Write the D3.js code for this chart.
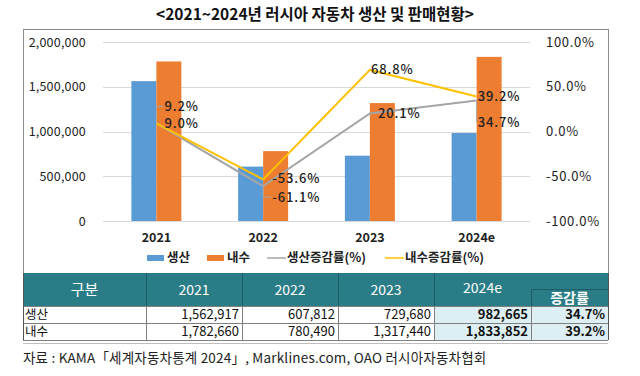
<!DOCTYPE html>
<html><head><meta charset="utf-8">
<script src="https://cdn.jsdelivr.net/npm/d3@7"></script>
<style>
body{margin:0;background:#fff;}
text{font-family:"Noto Sans CJK KR","Noto Sans",sans-serif;}
</style></head>
<body><svg id="c" width="640" height="376"></svg>
<script>
const years = ["2021","2022","2023","2024e"];
const production = [1562917, 607812, 729680, 982665];
const sales = [1782660, 780490, 1317440, 1833852];
const prodGrowth = [9.0, -61.1, 20.1, 34.7];
const salesGrowth = [9.2, -53.6, 68.8, 39.2];
const leftTicks = [0, 500000, 1000000, 1500000, 2000000];
const rightTicks = [-100, -50, 0, 50, 100];
const seriesNames = ["생산","내수","생산증감률(%)","내수증감률(%)"];
const tableHead = ["구분","2021","2022","2023","2024e"];
const rateHead = "증감률";
const rowNames = ["생산","내수"];
const rates = ["34.7%","39.2%"];
const title = "<2021~2024년 러시아 자동차 생산 및 판매현황>";
const source = "자료 : KAMA「세계자동차통계 2024」, Marklines.com, OAO 러시아자동차협회";

const C = {blue:"#5B9BD5", orange:"#ED7D31", grey:"#A5A5A5", yellow:"#FFC000", teal:"#2A7D86"};
const svg = d3.select("#c");
svg.append("rect").attr("width",640).attr("height",376).attr("fill","#fff");

svg.append("text").attr("x",315).attr("y",20).attr("text-anchor","middle")
  .attr("font-size",15.5).attr("font-weight",700).attr("fill","#111").text(title);

// chart box
svg.append("rect").attr("x",23.5).attr("y",29.5).attr("width",585).attr("height",244)
  .attr("fill","none").attr("stroke","#8c8c8c");

const x = d3.scaleBand().domain(years).range([103,530]).padding(0);
const sub = d3.scaleBand().domain([0,1]).range([x.bandwidth()/2-25, x.bandwidth()/2+25]).padding(0);
const y = d3.scaleLinear().domain([0,2000000]).range([221,42]);
const y2 = d3.scaleLinear().domain([-100,100]).range([221,42]);

// grid
svg.append("g").selectAll("line").data(leftTicks).join("line")
  .attr("x1",103).attr("x2",530).attr("y1",d=>Math.round(y(d))+0.5).attr("y2",d=>Math.round(y(d))+0.5)
  .attr("stroke","#d9d9d9");

// axes
const ax = svg.append("g").attr("transform","translate(103,0)")
  .call(d3.axisLeft(y).tickValues(leftTicks).tickSize(0).tickPadding(17).tickFormat(d3.format(",")));
ax.select(".domain").remove();
ax.selectAll("text").attr("font-size",12.5).attr("letter-spacing",0.2).attr("fill","#222").attr("font-family","'Noto Sans CJK KR',sans-serif");
const ax2 = svg.append("g").attr("transform","translate(530,0)")
  .call(d3.axisRight(y2).tickValues(rightTicks).tickSize(0).tickPadding(16).tickFormat(d=>d.toFixed(1)+"%"));
ax2.select(".domain").remove();
ax2.selectAll("text").attr("font-size",13).attr("letter-spacing",0.7).attr("fill","#222").attr("font-family","'Noto Sans CJK KR',sans-serif");
const axb = svg.append("g").attr("transform","translate(0,221)")
  .call(d3.axisBottom(x).tickSize(0).tickPadding(12));
axb.select(".domain").remove();
axb.selectAll("text").attr("font-size",12.5).attr("font-weight",700).attr("fill","#222").attr("font-family","'Noto Sans CJK KR',sans-serif");

// bars
const bars = [production, sales];
const barColors = [C.blue, C.orange];
bars.forEach((arr,i)=>{
  svg.append("g").selectAll("rect").data(arr).join("rect")
    .attr("x",(d,j)=>x(years[j])+sub(i)).attr("width",sub.bandwidth())
    .attr("y",d=>y(d)).attr("height",d=>y(0)-y(d)).attr("fill",barColors[i]);
});

// lines
const cx = d=>x(d)+x.bandwidth()/2;
const lineGen = d3.line().x((d,i)=>cx(years[i])).y(d=>y2(d));
svg.append("path").datum(prodGrowth).attr("d",lineGen).attr("fill","none").attr("stroke",C.grey).attr("stroke-width",2);
svg.append("path").datum(salesGrowth).attr("d",lineGen).attr("fill","none").attr("stroke",C.yellow).attr("stroke-width",2);

// labels: [series, index, dx, dy, leader]
const labelCfg = [
  [salesGrowth,0,8,-17,true],[prodGrowth,0,8,0,false],
  [salesGrowth,1,9,-1,false],[prodGrowth,1,9,11,true],
  [salesGrowth,2,1,0,false],[prodGrowth,2,8,0,false],
  [salesGrowth,3,1,0,false],[prodGrowth,3,1,22,true]
];
const lg = svg.append("g");
labelCfg.forEach(([arr,i,dx,dy,leader])=>{
  const px = cx(years[i]), py = y2(arr[i]);
  const tx = px+dx, ty = py+dy;
  if(leader){
    lg.append("path").attr("d",`M${px},${py}V${ty}H${tx-1}`).attr("fill","none").attr("stroke","#a6a6a6").attr("stroke-width",1);
  }
  lg.append("text").attr("x",tx).attr("y",ty).attr("dy","0.35em").attr("font-size",13).attr("letter-spacing",0.9)
    .attr("font-weight",500).attr("fill","#222").text(arr[i].toFixed(1)+"%");
});

// legend
const leg = svg.append("g").attr("transform","translate(0,258)");
const legItems = [
  {x:147,type:"rect",c:C.blue,t:seriesNames[0]},
  {x:207,type:"rect",c:C.orange,t:seriesNames[1]},
  {x:267,type:"line",c:C.grey,t:seriesNames[2]},
  {x:385,type:"line",c:C.yellow,t:seriesNames[3]}
];
legItems.forEach(it=>{
  if(it.type==="rect") leg.append("rect").attr("x",it.x).attr("y",-3).attr("width",17).attr("height",6).attr("fill",it.c);
  else leg.append("line").attr("x1",it.x).attr("x2",it.x+19).attr("y1",0).attr("y2",0).attr("stroke",it.c).attr("stroke-width",1.5);
  leg.append("text").attr("x",it.x+20).attr("y",0).attr("dy","0.35em").attr("font-size",12.5).attr("font-weight",700)
    .attr("fill","#222").text(it.t);
});

// table
const cols = [23,146,242,338,434,531,608];
const tTop=273, tHead=306, r1=323, r2=340;
const tfont = "'Liberation Sans',sans-serif";
const tg = svg.append("g");
tg.append("rect").attr("x",23).attr("y",tTop).attr("width",585).attr("height",tHead-tTop).attr("fill",C.teal);
[0,1].forEach(r=>{
  [4,5].forEach(ci=>{
    tg.append("rect").attr("x",cols[ci]).attr("y",r===0?tHead:r1).attr("width",cols[ci+1]-cols[ci]).attr("height",17).attr("fill","#DDEFF3");
  });
});
cols.slice(1,5).forEach(cx0=>{
  tg.append("line").attr("x1",cx0+0.5).attr("x2",cx0+0.5).attr("y1",tTop).attr("y2",tHead).attr("stroke","#1d5c63");
});
tg.append("path").attr("d",`M${cols[5]+0.5},${tHead}V${289.5}H${608}`).attr("fill","none").attr("stroke","#1d5c63");
tableHead.forEach((t,i)=>{
  const xx=(cols[i]+cols[i+1])/2, yy=i===4?288:290;
  tg.append("text").attr("x",xx).attr("y",yy).attr("dy","0.35em").attr("text-anchor","middle")
      .attr("font-size",i===0?15:14).attr("fill","#fff").attr("font-family",i===0?null:tfont).text(t);
});
tg.append("text").attr("x",(cols[5]+cols[6])/2).attr("y",298).attr("dy","0.35em").attr("text-anchor","middle")
  .attr("font-size",14).attr("fill","#fff").attr("font-weight",700).text(rateHead);
const rowData=[production,sales];
rowData.forEach((arr,r)=>{
  const yc = (r===0?tHead:r1)+8.5;
  tg.append("text").attr("x",25).attr("y",yc).attr("dy","0.36em").attr("font-size",12.5).attr("fill","#111").text(rowNames[r]);
  arr.forEach((v,i)=>{
    tg.append("text").attr("x",cols[i+2]-3).attr("y",yc).attr("dy","0.36em").attr("text-anchor","end")
      .attr("font-size",13).attr("font-weight",i===3?700:400).attr("fill","#111").attr("font-family",tfont)
      .text(d3.format(",")(v));
  });
  tg.append("text").attr("x",cols[6]-3).attr("y",yc).attr("dy","0.36em").attr("text-anchor","end")
    .attr("font-size",13).attr("font-weight",700).attr("fill","#111").attr("font-family",tfont).text(rates[r]);
});
[tHead,r1,r2].forEach(yy=>{
  tg.append("line").attr("x1",23).attr("x2",608).attr("y1",yy+0.5).attr("y2",yy+0.5).attr("stroke","#7f7f7f");
});
cols.forEach(cx0=>{
  tg.append("line").attr("x1",cx0+0.5).attr("x2",cx0+0.5).attr("y1",tHead).attr("y2",r2).attr("stroke","#7f7f7f");
});
tg.append("line").attr("x1",23.5).attr("x2",23.5).attr("y1",tTop).attr("y2",r2).attr("stroke","#555");
tg.append("line").attr("x1",608.5).attr("x2",608.5).attr("y1",tTop).attr("y2",r2).attr("stroke","#555");

// source
svg.append("line").attr("x1",23).attr("x2",608).attr("y1",343.5).attr("y2",343.5).attr("stroke","#bfbfbf");
svg.append("text").attr("x",23).attr("y",358).attr("dy","0.35em").attr("font-size",13.5).attr("letter-spacing",0.2).attr("fill","#222").text(source);
</script></body></html>
